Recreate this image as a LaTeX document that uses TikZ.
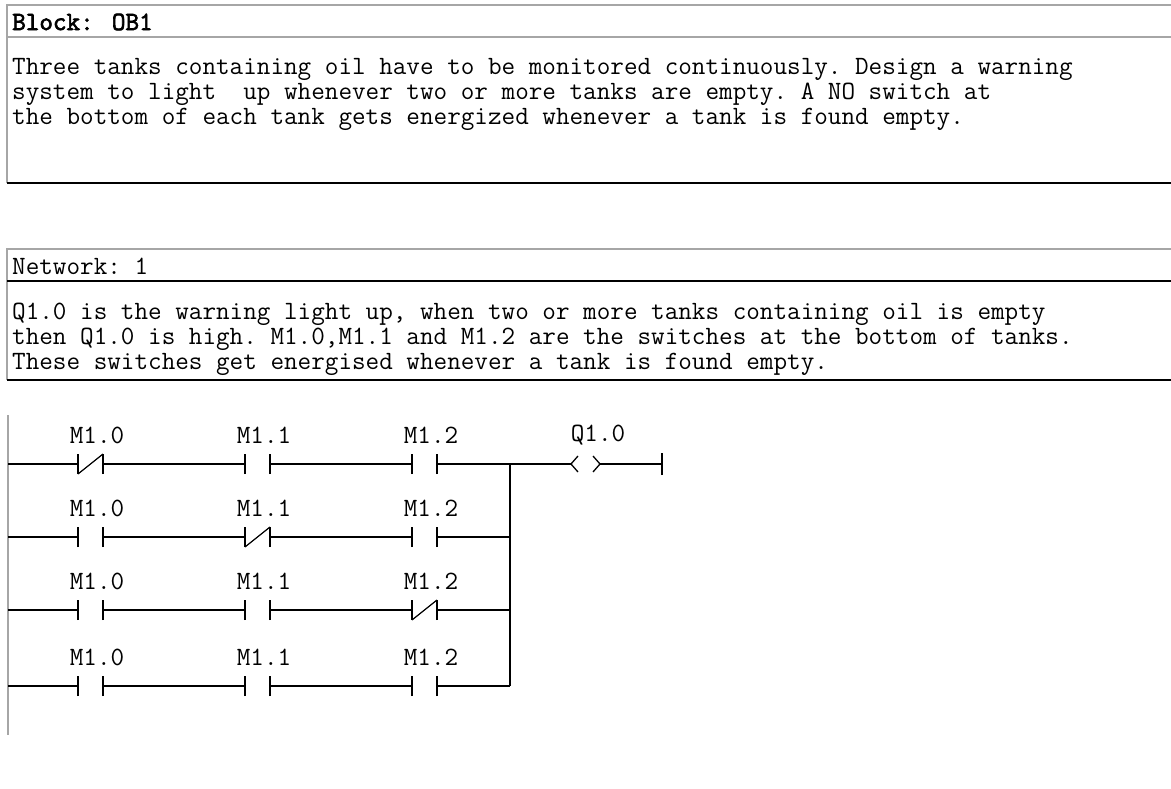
\documentclass[tikz,border=0pt]{standalone}
\usepackage{fontspec}
\setmonofont{Latin Modern Mono}
\newfontfamily\boldtt[FakeBold=2.5]{Latin Modern Mono}
\begin{document}
\begin{tikzpicture}[x=1pt,y=-1pt,
  txt/.style={anchor=west,inner sep=0pt,font=\ttfamily\fontsize{26.4}{26}\selectfont},
  lbl/.style={inner sep=0pt,font=\ttfamily\fontsize{26.4}{26}\selectfont},
  wire/.style={line width=1.6pt},
  gb/.style={gray!70,line width=2pt}]
\useasboundingbox (0,0) rectangle (1171,789);
% Block box
\draw[gb] (1171,5) -- (7,5) -- (7,183);
\draw[gray!70,line width=1.8pt] (7,37) -- (1171,37);
\draw[black,line width=2pt] (7,183) -- (1171,183);
\node[txt,font=\boldtt\fontsize{26.4}{26}\selectfont] (bh) at (12,22) {Block: OB1};
\node[txt] (b1) at (12,69) {Three tanks containing oil have to be monitored continuously. Design a warning};
\node[txt] (b2) at (12,94) {system to light\ \ up whenever two or more tanks are empty. A NO switch at};
\node[txt] (b3) at (12,119) {the bottom of each tank gets energized whenever a tank is found empty.};
% Network box
\draw[gb] (1171,249) -- (7,249) -- (7,380);
\draw[black,line width=1.8pt] (7,281) -- (1171,281);
\draw[black,line width=2pt] (7,380) -- (1171,380);
\node[txt] (nh) at (12,266) {Network: 1};
\node[txt] (n1) at (12,314) {Q1.0 is the warning light up, when two or more tanks containing oil is empty};
\node[txt] (n2) at (12,339) {then Q1.0 is high. M1.0,M1.1 and M1.2 are the switches at the bottom of tanks.};
\node[txt] (n3) at (12,364) {These switches get energised whenever a tank is found empty.};
% ladder
\draw[gray!70,line width=2pt] (8,415) -- (8,735);
\foreach \r/\y/\a/\b/\c in {1/464/1/0/0, 2/537/0/1/0, 3/610/0/0/1, 4/686/0/0/0}{
  \coordinate (L\r) at (8,\y);
  \coordinate (J\r) at (510,\y);
  \foreach \k/\xa/\nm/\cl in {1/78/M1.0/\a, 2/245/M1.1/\b, 3/412/M1.2/\c}{
    \coordinate (p\r\k a) at (\xa,\y);
    \coordinate (p\r\k b) at (\xa+25,\y);
    \draw[wire] ([yshift=-10pt]p\r\k a) -- ([yshift=10pt]p\r\k a);
    \draw[wire] ([yshift=-10pt]p\r\k b) -- ([yshift=10pt]p\r\k b);
    \ifnum\cl=1
      \draw[line width=1.2pt] ([yshift=-10pt]p\r\k a) -- ([yshift=10pt]p\r\k b);
    \fi
    \node[lbl] (t\r\k) at (\xa+19,\y-29) {\nm};
  }
  \draw[wire] (L\r) -- (p\r1a);
  \draw[wire] (p\r1b) -- (p\r2a);
  \draw[wire] (p\r2b) -- (p\r3a);
  \draw[wire] (p\r3b) -- (J\r);
}
\draw[wire] (J1) -- (J4);
% coil
\coordinate (ca) at (563,464);
\coordinate (E) at (662,464);
\draw[wire] (J1) -- (ca);
\draw[line width=1.3pt] (578,456) -- (571,464) -- (578,472);
\draw[line width=1.3pt] (593,456) -- (600,464) -- (593,472);
\draw[wire] (ca) -- (571,464);
\draw[wire] (600,464) -- (E);
\draw[wire] ([yshift=-11pt]E) -- ([yshift=11pt]E);
\node[lbl] (q) at (598,435) {Q1.0};
\end{tikzpicture}
\end{document}
